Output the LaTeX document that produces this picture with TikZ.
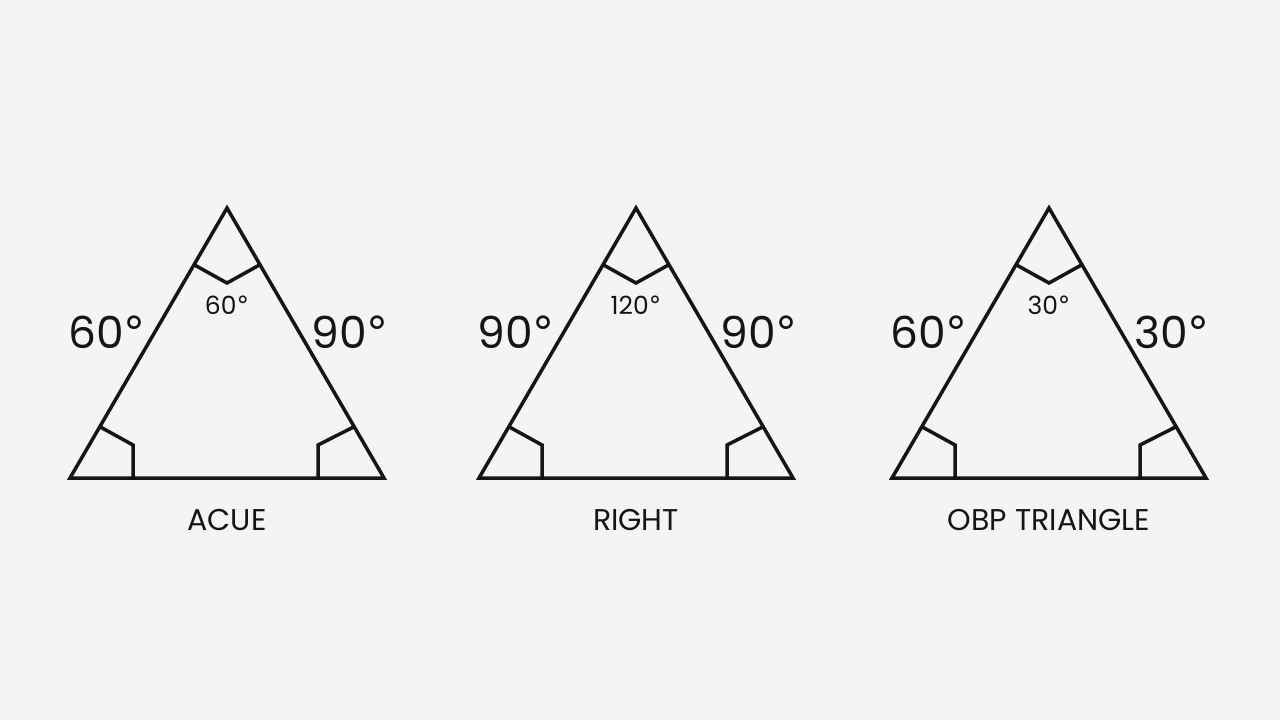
\documentclass[tikz,border=0pt]{standalone}
\usepackage{fontspec}
\setmainfont{Poppins}
\newfontfamily\degfont{DejaVu Sans}
\newcommand{\dg}{{\degfont °}}
\usetikzlibrary{calc}
\definecolor{bgcol}{HTML}{F4F4F4}
\definecolor{ink}{HTML}{151515}

\begin{document}
\begin{tikzpicture}[x=1pt,y=-1pt,line width=3.5pt,line join=miter,draw=ink,text=ink,
	bigang/.style={font=\fontsize{44}{44}\selectfont},
	topang/.style={font=\fontsize{25}{25}\selectfont},
	kind/.style={font=\fontsize{30}{30}\selectfont}]
		\fill[bgcol] (0,0) rectangle (1280,720); %background
		\foreach \dx/\l/\t/\r/\kname [count=\i] in {0/60/60/90/ACUE,409/90/120/90/RIGHT,822/60/30/30/OBP TRIANGLE}{ %three triangles
			\coordinate (A\i) at (\dx+227,208); %apex
			\coordinate (B\i) at (\dx+70,478); %left
			\coordinate (C\i) at (\dx+384,478); %right
			\draw (A\i) -- (B\i) -- (C\i) -- cycle;
			\draw ($(A\i)!0.21!(B\i)$) -- ($(A\i)+(0,75)$) -- ($(A\i)!0.21!(C\i)$); %top mark
			\draw ($(B\i)!0.19!(A\i)$) -- ($(B\i)+(63,-33)$) -- ($(B\i)+(63,0)$); %left mark
			\draw ($(C\i)!0.19!(A\i)$) -- ($(C\i)+(-66,-33)$) -- ($(C\i)+(-66,0)$); %right mark
			\node[bigang] (l\i) at ($(A\i)+(-120,124)$) {\l\dg};
			\node[bigang] (r\i) at ($(A\i)+(123,124)$) {\r\dg};
			\node[topang] (t\i) at ($(A\i)+(0,97)$) {\t\dg};
			\node[kind] (k\i) at ($(A\i)+(0,312)$) {\kname};
		}
	\end{tikzpicture}
\end{document}
